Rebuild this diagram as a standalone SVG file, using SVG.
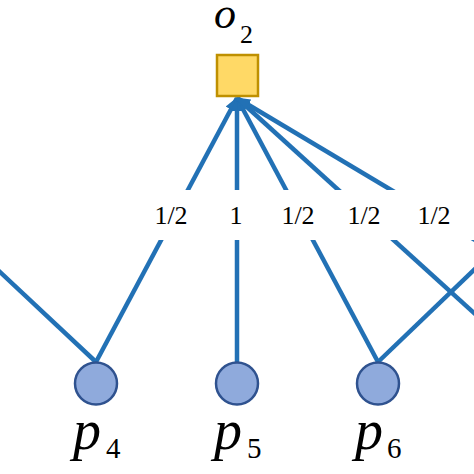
<svg xmlns="http://www.w3.org/2000/svg" width="474" height="474" viewBox="0 0 474 474">
  <style>
    .edge { stroke: #2271B5; stroke-width: 4.5; fill: none; }
    .pnode { fill: #8FAADC; stroke: #2F528F; stroke-width: 2.5; }
    .onode { fill: #FFD966; stroke: #BF9000; stroke-width: 2.5; }
    .lbl { font-family: "Liberation Serif", "Times New Roman", serif; font-style: italic; fill: #000; }
    .sub { font-style: normal; }
    .elbl { font-family: "Liberation Serif", "Times New Roman", serif; font-size: 26px; fill: #000; text-anchor: middle; }
    .lblbg { fill: #FFFFFF; stroke: none; }
  </style>
  <defs>
    <marker id="arr" markerUnits="userSpaceOnUse" markerWidth="14" markerHeight="12" refX="13" refY="6" orient="auto">
      <path d="M0,0 L14,6 L0,12 Z" fill="#2271B5"/>
    </marker>
  </defs>
  <rect width="474" height="474" fill="#FFFFFF"/>
  <g id="connectors">
    <line class="edge" x1="96" y1="362" x2="237" y2="98" marker-end="url(#arr)"/>
    <line class="edge" x1="237" y1="362" x2="237" y2="98" marker-end="url(#arr)"/>
    <line class="edge" x1="378" y1="362" x2="237" y2="98" marker-end="url(#arr)"/>
    <line class="edge" x1="500" y1="336.5" x2="237" y2="98" marker-end="url(#arr)"/>
    <line class="edge" x1="500" y1="255" x2="237" y2="98" marker-end="url(#arr)"/>
    <line class="edge" x1="-10" y1="262.6" x2="96" y2="362"/>
    <line class="edge" x1="378" y1="362" x2="500" y2="245"/>
  </g>
  <g id="edge-labels">
    <rect class="lblbg" x="137" y="190" width="70" height="50"/>
    <rect class="lblbg" x="201" y="190" width="70" height="50"/>
    <rect class="lblbg" x="263" y="190" width="70" height="50"/>
    <rect class="lblbg" x="329" y="190" width="70" height="50"/>
    <rect class="lblbg" x="399" y="190" width="75" height="50"/>
    <text class="elbl" x="171" y="224">1/2</text>
    <text class="elbl" x="236" y="224">1</text>
    <text class="elbl" x="298" y="224">1/2</text>
    <text class="elbl" x="364" y="224">1/2</text>
    <text class="elbl" x="434" y="224">1/2</text>
  </g>
  <g id="o2">
    <rect class="onode" x="217" y="55" width="41" height="41"/>
    <text class="lbl" x="214" y="28" font-size="44">o<tspan class="sub" x="240" y="43" font-size="26">2</tspan></text>
  </g>
  <g id="p4">
    <circle class="pnode" cx="96" cy="383.5" r="21"/>
    <text class="lbl" x="73" y="449" font-size="56">p<tspan class="sub" x="106" y="458" font-size="29">4</tspan></text>
  </g>
  <g id="p5">
    <circle class="pnode" cx="237" cy="383.5" r="21"/>
    <text class="lbl" x="214" y="449" font-size="56">p<tspan class="sub" x="247" y="458" font-size="29">5</tspan></text>
  </g>
  <g id="p6">
    <circle class="pnode" cx="378" cy="383.5" r="21"/>
    <text class="lbl" x="355" y="449" font-size="56">p<tspan class="sub" x="387" y="458" font-size="29">6</tspan></text>
  </g>
</svg>
